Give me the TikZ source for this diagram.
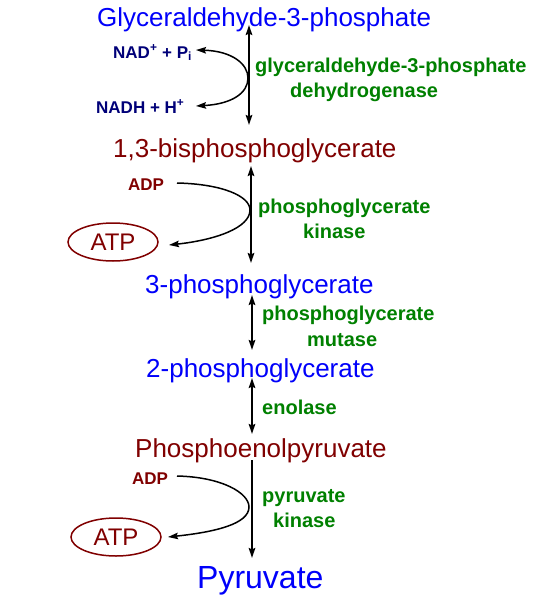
\documentclass[tikz,border=0pt]{standalone}
\usepackage{fontspec}
\setmainfont{Liberation Sans}
\usetikzlibrary{arrows.meta,shapes.geometric}
\definecolor{mblue}{RGB}{0,0,250}
\definecolor{mred}{RGB}{128,0,0}
\definecolor{mgreen}{RGB}{0,128,0}
\definecolor{mnavy}{RGB}{0,0,120}
\tikzset{
  metab/.style={anchor=base west,inner sep=0pt,font=\fontsize{26}{30}\selectfont},
  enz/.style={anchor=base west,inner sep=0pt,text=mgreen,font=\fontsize{20}{24}\selectfont\bfseries},
  cofac/.style={anchor=base west,inner sep=0pt,font=\fontsize{17}{20}\selectfont\bfseries},
  atpnode/.style={ellipse,draw=mred,line width=1.5pt,minimum width=90pt,minimum height=38pt,inner sep=0pt,text=mred,font=\fontsize{24}{28}\selectfont},
  mytip/.tip={Stealth[length=10pt,width=6.5pt,inset=1.5pt]},
  rxn/.style={line width=1.8pt,black},
}
\begin{document}
\begin{tikzpicture}[x=1pt,y=-1pt]
\useasboundingbox (0,0) rectangle (533,600);
% metabolites
\node[metab,text=mblue] (g3p) at (97,26) {Glyceraldehyde-3-phosphate};
\node[metab,text=mred] (bpg) at (113,157) {1,3-bisphosphoglycerate};
\node[metab,text=mblue] (pg3) at (145,293) {3-phosphoglycerate};
\node[metab,text=mblue] (pg2) at (146,377) {2-phosphoglycerate};
\node[metab,text=mred] (pep) at (135,457) {Phosphoenolpyruvate};
\node[anchor=base west,inner sep=0pt,text=mblue,font=\fontsize{32}{36}\selectfont] (pyr) at (197,588) {Pyruvate};
% enzymes
\node[enz] (e1a) at (255,72) {glyceraldehyde-3-phosphate};
\node[enz] (e1b) at (290,97) {dehydrogenase};
\node[enz] (e2a) at (258,213) {phosphoglycerate};
\node[enz] (e2b) at (303,238) {kinase};
\node[enz] (e3a) at (262,320) {phosphoglycerate};
\node[enz] (e3b) at (307,346) {mutase};
\node[enz] (e4) at (262,414) {enolase};
\node[enz] (e5a) at (262,502) {pyruvate};
\node[enz] (e5b) at (273,527) {kinase};
% cofactors
\node[cofac,text=mnavy] (nad) at (113,58) {NAD\textsuperscript{+} + P\textsubscript{i}};
\node[cofac,text=mnavy] (nadh) at (96,113) {NADH + H\textsuperscript{+}};
\node[cofac,text=mred] (adp1) at (128,190) {ADP};
\node[atpnode] (atp1) at (113,242) {ATP};
\node[cofac,text=mred] (adp2) at (132,484) {ADP};
\node[atpnode] (atp2) at (116,537) {ATP};
% arrow end coordinates
\coordinate (a1t) at (249,25);
\coordinate (a1b) at (249,125);
\coordinate (a2t) at (251,166);
\coordinate (a2b) at (251,263);
\coordinate (a3t) at (252,295);
\coordinate (a3b) at (252,350);
\coordinate (a4t) at (252,378);
\coordinate (a4b) at (252,434);
\coordinate (a5t) at (252,460);
\coordinate (a5b) at (252,558);
\coordinate (c1a) at (196,50);
\coordinate (c1m) at (248,78);
\coordinate (c1b) at (196,106);
\coordinate (c2a) at (177,183);
\coordinate (c2m) at (250,210);
\coordinate (c2b) at (169,245);
\coordinate (c3a) at (177,476);
\coordinate (c3m) at (249,507);
\coordinate (c3b) at (168,537);
% main arrows
\draw[rxn,{mytip}-{mytip}] (a1t) -- (a1b);
\draw[rxn,{mytip}-{mytip}] (a2t) -- (a2b);
\draw[rxn,{mytip}-{mytip}] (a3t) -- (a3b);
\draw[rxn,{mytip}-{mytip}] (a4t) -- (a4b);
\draw[rxn,-{mytip}] (a5t) -- (a5b);
% side curves
\draw[rxn,line width=1.5pt,{mytip}-{mytip}] (c1a) .. controls (232,51) and (248,64) .. (c1m) .. controls (248,93) and (232,104) .. (c1b);
\draw[rxn,line width=1.5pt,-{mytip}] (c2a) .. controls (222,184) and (250,196) .. (c2m) .. controls (250,228) and (215,240) .. (c2b);
\draw[rxn,line width=1.5pt,-{mytip}] (c3a) .. controls (222,477) and (249,493) .. (c3m) .. controls (249,524) and (215,532) .. (c3b);
\end{tikzpicture}
\end{document}
